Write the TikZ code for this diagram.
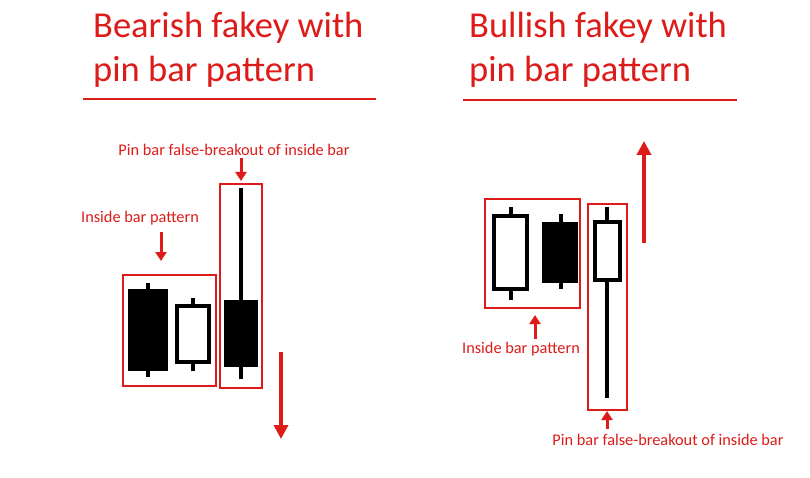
\documentclass[tikz,border=0pt]{standalone}
\usepackage{fontspec}
\setmainfont{Carlito}
\usetikzlibrary{arrows.meta}
\definecolor{rd}{HTML}{DD1C1A}
\begin{document}
\begin{tikzpicture}[x=1pt,y=-1pt,
  ttl/.style={text=rd,font=\fontsize{36.5}{40}\selectfont,anchor=west,inner sep=0},
  lbl/.style={text=rd,font=\fontsize{16.3}{18}\selectfont,inner sep=0},
  frame/.style={draw=rd,line width=1.2pt},
  wick/.style={line width=3.2pt,black},
  bodyw/.style={draw=black,fill=white,line width=3.2pt},
  bodyb/.style={draw=black,fill=black,line width=3.2pt},
  arr/.style={draw=rd,line width=3pt,-{Triangle[length=9pt,width=11pt]}},
  bigarr/.style={draw=rd,line width=3.5pt,-{Triangle[length=14pt,width=14pt]}}]
\useasboundingbox[fill=white] (0,0) rectangle (810,478);
% titles
\node[ttl] (t1) at (93,28) {Bearish fakey with};
\node[ttl] (t2) at (93,72) {pin bar pattern};
\draw[rd,line width=2pt] (83,99) -- (376,99);
\node[ttl] (t3) at (469,28) {Bullish fakey with};
\node[ttl] (t4) at (469,72) {pin bar pattern};
\draw[rd,line width=2pt] (463,100) -- (737,100);
% left section
\draw[frame] (123,275) rectangle (216,386);
\draw[wick] (148,283) -- (148,377);
\draw[bodyb] (130,291) rectangle (166,369);
\draw[wick] (193,298) -- (193,371);
\draw[bodyw] (177,306) rectangle (209,362);
\draw[frame] (220,184) rectangle (262,388);
\draw[wick] (241,188) -- (241,379);
\draw[bodyb] (226,302) rectangle (256,365);
\node[lbl] (l1) at (140,218) {Inside bar pattern};
\coordinate (a1s) at (161,232); \coordinate (a1e) at (161,261);
\draw[arr] (a1s) -- (a1e);
\node[lbl] (l2) at (234,150) {Pin bar false-breakout of inside bar};
\coordinate (a2s) at (241,158); \coordinate (a2e) at (241,181);
\draw[arr] (a2s) -- (a2e);
\coordinate (a3s) at (281,352); \coordinate (a3e) at (281,439);
\draw[bigarr] (a3s) -- (a3e);
% right section
\draw[frame] (485,199) rectangle (580,308);
\draw[wick] (511,207) -- (511,300);
\draw[bodyw] (494,216) rectangle (527,289);
\draw[wick] (561,214) -- (561,289);
\draw[bodyb] (544,224) rectangle (576,281);
\draw[frame] (588,204) rectangle (627,410);
\draw[wick] (607,207) -- (607,398);
\draw[bodyw] (595,222) rectangle (620,280);
\coordinate (b1s) at (535,339); \coordinate (b1e) at (535,315);
\draw[arr] (b1s) -- (b1e);
\node[lbl] (r1) at (521,349) {Inside bar pattern};
\coordinate (b2s) at (607,429); \coordinate (b2e) at (607,411);
\draw[arr] (b2s) -- (b2e);
\node[lbl] (r2) at (668,440) {Pin bar false-breakout of inside bar};
\coordinate (b3s) at (644,243); \coordinate (b3e) at (644,141);
\draw[bigarr] (b3s) -- (b3e);
\end{tikzpicture}
\end{document}
